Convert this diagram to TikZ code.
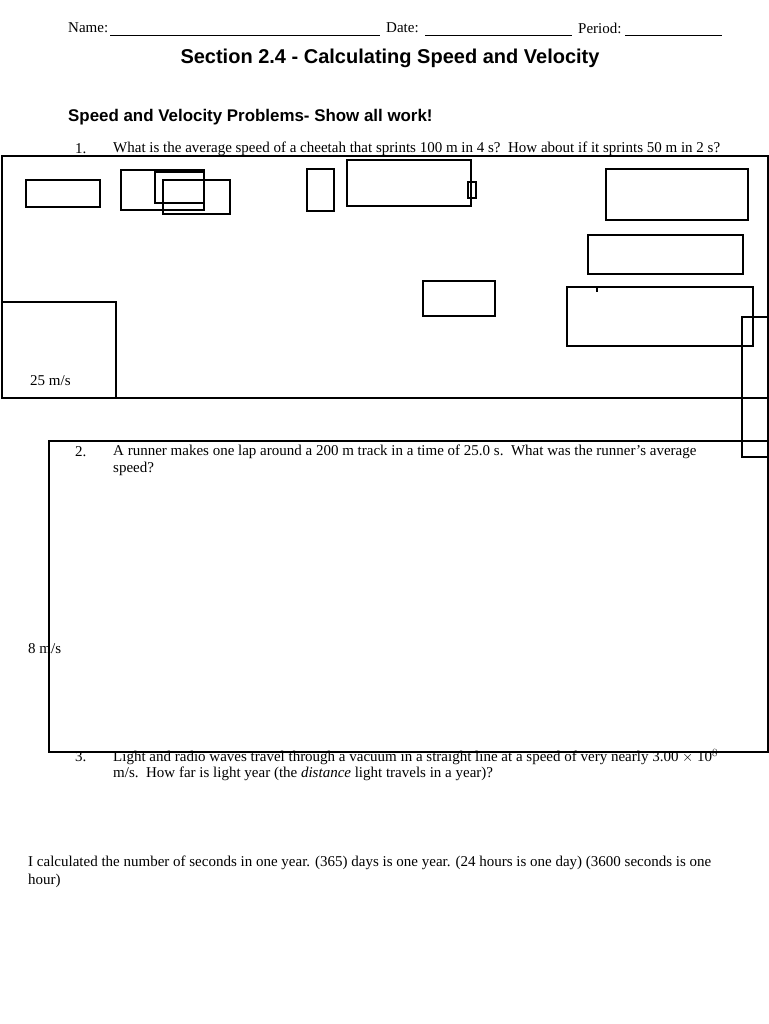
\documentclass[tikz,border=0pt]{standalone}
\usepackage{fontspec}
\setmainfont{Liberation Serif}
\newfontfamily\hd{Liberation Sans}
\begin{document}
\begin{tikzpicture}[x=1pt,y=-1pt,
  txt/.style={anchor=west,inner sep=0pt,font=\fontsize{15}{17}\selectfont},
  bx/.style={draw,line width=1.3pt}]
\useasboundingbox (0,0) rectangle (768,1024);
\fill[white] (0,0) rectangle (768,1024);
\node[txt] (hn) at (68,28) {Name:};
\node[txt] (hd) at (386,28) {Date:};
\node[txt] (hp) at (578,28) {Period:};
\draw[line width=0.6pt] (110,35) -- (380,35) (425,35) -- (572,35) (625,35) -- (722,35);
\node[anchor=center,inner sep=0pt,font=\hd\bfseries\fontsize{20}{22}\selectfont] (title) at (390,58) {Section 2.4 - Calculating Speed and Velocity};
\node[anchor=west,inner sep=0pt,font=\hd\bfseries\fontsize{16.9}{19}\selectfont] (sub) at (68,117) {Speed and Velocity Problems- Show all work!};
\node[txt] (n1) at (75,149) {1.};
\node[txt] (q1) at (113,149) {What is the average speed of a cheetah that sprints 100 m in 4 s?\ \ How about if it sprints 50 m in 2 s?};
\draw[bx] (2,156) rectangle (768,398);
\foreach \a/\b/\c/\d in {26/180/100/207,121/170/204/210,155/172/204/203,163/180/230/214,307/169/334/211,347/160/471/206,468/182/476/198,606/169/748/220,588/235/743/274,423/281/495/316,567/287/753/346,2/302/116/398,742/317/768/457}
  \draw[bx] (\a,\b) rectangle (\c,\d);
\draw[bx] (597,287) -- (597,292);
\node[txt] (a1) at (30,381) {25 m/s};
\draw[bx] (49,441) rectangle (768,752);
\node[txt] (n2) at (75,452) {2.};
\node[txt] (q2a) at (113,452) {A runner makes one lap around a 200 m track in a time of 25.0 s.\ \ What was the runner's average};
\node[txt] (q2b) at (113,469) {speed?};
\node[txt] (a2) at (28,649) {8 m/s};
\node[txt] (n3) at (75,757) {3.};
\node[txt] (q3a) at (113,757) {Light and radio waves travel through a vacuum in a straight line at a speed of very nearly 3.00 $\times$ 10$^{8}$};
\node[txt] (q3b) at (113,774) {m/s.\ \ How far is light year (the \emph{distance} light travels in a year)?};
\node[txt] (c1) at (28,863) {I calculated the number of seconds in one year. (365) days is one year. (24 hours is one day) (3600 seconds is one};
\node[txt] (c2) at (28,881) {hour)};
\end{tikzpicture}
\end{document}
